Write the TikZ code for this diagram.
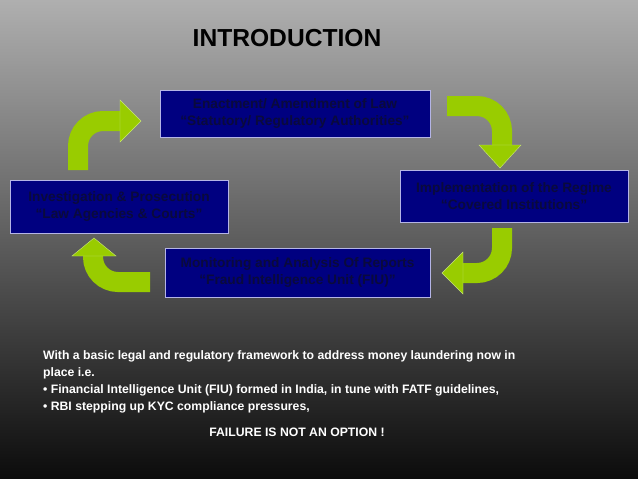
\documentclass[tikz,border=0pt]{standalone}
\usepackage{fontspec}
\setmainfont{Liberation Sans}
\definecolor{bgtop}{RGB}{175,175,175}
\definecolor{bgbot}{RGB}{12,12,12}
\definecolor{boxblue}{RGB}{0,0,128}
\definecolor{boxline}{RGB}{180,180,230}
\definecolor{boxtext}{RGB}{10,10,60}
\definecolor{lime}{RGB}{153,204,0}
\definecolor{limeline}{RGB}{200,230,120}
\begin{document}
\begin{tikzpicture}[x=0.05cm,y=-0.05cm,
  box/.style={draw=boxline,line width=1pt,fill=boxblue,align=center,
    font=\bfseries\fontsize{19.5}{24}\selectfont,text=boxtext,inner sep=0pt},
  shaft/.style={line width=1cm,draw=lime},
  head/.style={fill=lime,draw=limeline,line width=0.6pt},
  body/.style={text=white,font=\bfseries\fontsize{17.4}{24}\selectfont,anchor=west,inner sep=0pt}]
\shade[top color=bgtop,bottom color=bgbot] (0,0) rectangle (638,478);
\useasboundingbox (0,0) rectangle (638,478);
\node[font=\bfseries\fontsize{35}{38}\selectfont] (title) at (287,38) {INTRODUCTION};
% boxes
\node[box,minimum width=270*0.05cm,minimum height=47*0.05cm] (b1) at (295,113.5) {Enactment/ Amendment of Law\\``Statutory/ Regulatory Authorities''};
\node[box,minimum width=228*0.05cm,minimum height=52*0.05cm] (b2) at (514,196) {Implementation of the Regime\\``Covered Institutions''};
\node[box,minimum width=265*0.05cm,minimum height=49*0.05cm] (b3) at (297.5,272.5) {Monitoring and Analysis  Of Reports\\``Fraud Intelligence Unit (FIU)''};
\node[box,minimum width=218*0.05cm,minimum height=53*0.05cm] (b4) at (119,206.5) {Investigation \& Prosecution\\``Law Agencies \& Courts''};
% arrow 1 (up then right)
\draw[shaft,rounded corners=25*0.05cm] (78,170) -- (78,121) -- (122,121);
\draw[head] (120,100) -- (141,121) -- (120,142) -- cycle;
% arrow 2 (right then down)
\draw[shaft,rounded corners=25*0.05cm] (447,106) -- (502,106) -- (502,147);
\draw[head] (479,145) -- (500,168) -- (521,145) -- cycle;
% arrow 3 (down then left)
\draw[shaft,rounded corners=25*0.05cm] (502,228) -- (502,273) -- (461,273);
\draw[head] (463,252) -- (442,273) -- (463,294) -- cycle;
% arrow 4 (left then up)
\draw[shaft,rounded corners=25*0.05cm] (150,282) -- (93,282) -- (93,254);
\draw[head] (72,256) -- (94,238) -- (116,256) -- cycle;
% body text
\node[body] (t1) at (43,356) {With a basic legal and regulatory framework to address money laundering now in};
\node[body] (t2) at (43,373) {place i.e.};
\node[body] (t3) at (43,390) {\textbullet\ Financial Intelligence Unit (FIU) formed in India, in tune with FATF guidelines,};
\node[body] (t4) at (43,407) {\textbullet\ RBI stepping up KYC compliance pressures,};
\node[body,anchor=center] (t5) at (297,432) {FAILURE IS NOT AN OPTION !};
\end{tikzpicture}
\end{document}
